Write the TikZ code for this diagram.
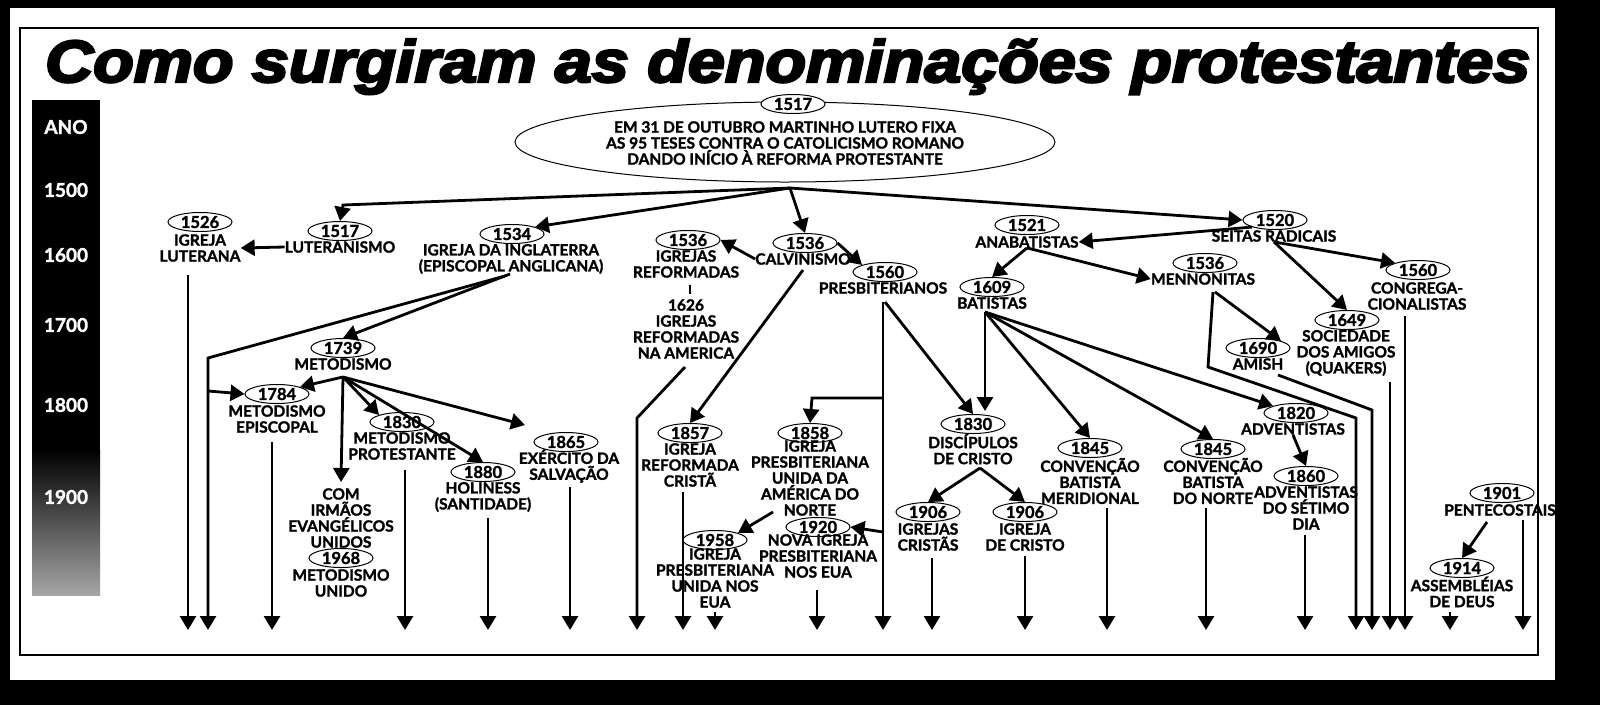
\documentclass[tikz,border=0pt]{standalone}
\usepackage{fontspec}
\setmainfont{Lato}
\newfontfamily\lblfont[FakeBold=1.6]{Lato Bold}
\newfontfamily\titlefont[FakeBold=4]{Liberation Sans Bold Italic}
\usetikzlibrary{arrows.meta,shapes.geometric}
\begin{document}
\begin{tikzpicture}[x=1pt,y=-1pt,
  lbl/.style={font=\lblfont\fontsize{15.5}{16}\selectfont,align=center,inner sep=0pt},
  yrbox/.style={draw,line width=1pt,ellipse,inner sep=0pt,minimum width=64pt,minimum height=19pt,font=\lblfont\fontsize{16.5}{16}\selectfont},
  arr/.style={line width=2.8pt,-{Triangle[length=14pt,width=16pt]}},
  ln/.style={line width=1.5pt},
  barlbl/.style={text=white,font=\lblfont\fontsize{19}{19}\selectfont,inner sep=0pt}]
\useasboundingbox (0,0) rectangle (1600,705);
\fill[black] (0,0) rectangle (1600,705);
\fill[white] (10,8) rectangle (1555,680);
\draw[line width=2.5pt] (20,28) rectangle (1538,655);
% title
\node[inner sep=0pt,anchor=base west] (title) at (45,82) {\resizebox{1485pt}{43pt}{\titlefont Como surgiram as denominações protestantes}};
% year bar
\fill[black] (32,100) rectangle (100,450);
\shade[top color=black,bottom color=black!35] (32,450) rectangle (100,595);
\node[barlbl] (ano) at (66,127) {ANO};
\node[barlbl] (y1500) at (66,190) {1500};
\node[barlbl] (y1600) at (66,255) {1600};
\node[barlbl] (y1700) at (66,325) {1700};
\node[barlbl] (y1800) at (66,405) {1800};
\node[barlbl] (y1900) at (66,497) {1900};
% top
\node[draw,line width=1pt,ellipse,minimum width=540pt,minimum height=80pt] (top) at (785,142) {};
\node[lbl] (toptext) at (785,143) {EM 31 DE OUTUBRO MARTINHO LUTERO FIXA\\AS 95 TESES CONTRA O CATOLICISMO ROMANO\\DANDO INÍCIO À REFORMA PROTESTANTE};
\node[yrbox,fill=white] (y1517top) at (793,104) {1517};
% nodes
\node[yrbox] (y1526) at (200,222) {1526};
\node[lbl] (luterana) at (200,248) {IGREJA\\LUTERANA};
\node[yrbox] (y1517) at (340,231) {1517};
\node[lbl] (luteranismo) at (340,247) {LUTERANISMO};
\node[yrbox] (y1534) at (512,234) {1534};
\node[lbl] (anglicana) at (511,259) {IGREJA DA INGLATERRA\\(EPISCOPAL ANGLICANA)};
\node[yrbox] (y1536r) at (688,240) {1536};
\node[lbl] (reformadas) at (686,264) {IGREJAS\\REFORMADAS};
\node[yrbox] (y1536c) at (805,243) {1536};
\node[lbl] (calvinismo) at (803,259) {CALVINISMO};
\node[yrbox] (y1560p) at (885,272) {1560};
\node[lbl] (presb) at (883,288) {PRESBITERIANOS};
\node[lbl] (america) at (686,329) {1626\\IGREJAS\\REFORMADAS\\NA AMERICA};
\node[yrbox] (y1521) at (1027,225) {1521};
\node[lbl] (anabat) at (1027,242) {ANABATISTAS};
\node[yrbox] (y1520) at (1275,220) {1520};
\node[lbl] (seitas) at (1274,236) {SEITAS RADICAIS};
\node[yrbox] (y1609) at (992,287) {1609};
\node[lbl] (batistas) at (992,303) {BATISTAS};
\node[yrbox] (y1536m) at (1205,263) {1536};
\node[lbl] (menno) at (1203,279) {MENNONITAS};
\node[yrbox] (y1560c) at (1418,270) {1560};
\node[lbl] (congreg) at (1417,296) {CONGREGA-\\CIONALISTAS};
\node[yrbox] (y1649) at (1347,320) {1649};
\node[lbl] (quakers) at (1346,353) {SOCIEDADE\\DOS AMIGOS\\(QUAKERS)};
\node[yrbox] (y1690) at (1258,348) {1690};
\node[lbl] (amish) at (1258,364) {AMISH};
\node[yrbox] (y1739) at (343,348) {1739};
\node[lbl] (metodismo) at (343,364) {METODISMO};
\node[yrbox] (y1784) at (277,394) {1784};
\node[lbl] (metepis) at (277,419) {METODISMO\\EPISCOPAL};
\node[yrbox] (y1830m) at (402,422) {1830};
\node[lbl] (metprot) at (402,446) {METODISMO\\PROTESTANTE};
\node[yrbox] (y1880) at (483,472) {1880};
\node[lbl] (holiness) at (483,497) {HOLINESS\\(SANTIDADE)};
\node[yrbox] (y1865) at (566,442) {1865};
\node[lbl] (exercito) at (569,466) {EXÉRCITO DA\\SALVAÇÃO};
\node[lbl] (com) at (341,518) {COM\\IRMÃOS\\EVANGÉLICOS\\UNIDOS};
\node[yrbox] (y1968) at (341,558) {1968};
\node[lbl] (metunido) at (341,583) {METODISMO\\UNIDO};
\node[yrbox] (y1857) at (690,433) {1857};
\node[lbl] (refcrista) at (690,465) {IGREJA\\REFORMADA\\CRISTÃ};
\node[yrbox] (y1858) at (810,433) {1858};
\node[lbl] (pun) at (810,478) {IGREJA\\PRESBITERIANA\\UNIDA DA\\AMÉRICA DO\\NORTE};
\node[yrbox] (y1958) at (715,540) {1958};
\node[lbl] (puneua) at (715,578) {IGREJA\\PRESBITERIANA\\UNIDA NOS\\EUA};
\node[yrbox] (y1920) at (818,527) {1920};
\node[lbl] (nova) at (818,556) {NOVA IGREJA\\PRESBITERIANA\\NOS EUA};
\node[yrbox] (y1830d) at (973,424) {1830};
\node[lbl] (discipulos) at (973,449) {DISCÍPULOS\\DE CRISTO};
\node[yrbox] (y1906a) at (928,512) {1906};
\node[lbl] (cristas) at (928,537) {IGREJAS\\CRISTÃS};
\node[yrbox] (y1906b) at (1025,512) {1906};
\node[lbl] (decristo) at (1025,537) {IGREJA\\DE CRISTO};
\node[yrbox] (y1845m) at (1090,448) {1845};
\node[lbl] (merid) at (1090,481) {CONVENÇÃO\\BATISTA\\MERIDIONAL};
\node[yrbox] (y1845n) at (1213,449) {1845};
\node[lbl] (norte) at (1213,481) {CONVENÇÃO\\BATISTA\\DO NORTE};
\node[yrbox] (y1820) at (1296,413) {1820};
\node[lbl] (advent) at (1293,429) {ADVENTISTAS};
\node[yrbox] (y1860) at (1306,476) {1860};
\node[lbl] (setimo) at (1306,508) {ADVENTISTAS\\DO SÉTIMO\\DIA};
\node[yrbox] (y1901) at (1502,493) {1901};
\node[lbl] (pente) at (1500,510) {PENTECOSTAIS};
\node[yrbox] (y1914) at (1462,568) {1914};
\node[lbl] (assemb) at (1462,592) {ASSEMBLÉIAS\\DE DEUS};
% connectors from top
\coordinate (hub) at (790,188);
\draw[arr] (hub) -- (343,205) -- (y1517.north);
\draw[arr] (hub) -- (y1534.north east);
\draw[arr] (hub) -- (y1536c.north);
\draw[arr] (hub) -- (y1520.west);
\draw[arr] (y1520.south west) -- (anabat.east);
\draw[arr] (luteranismo.west) -- (luterana.east);
\draw[arr] (calvinismo.west) -- (y1536r.east);
\draw[arr] (y1536c.east) -- (y1560p.north west);
% anglican
\draw[arr] (510,274) -- (y1739.north);
\draw[arr] (505,276) -- (208,358) -- (208,630);
\draw[arr] (208,391) -- (y1784.west);
% metodismo
\coordinate (mhub) at (343,377);
\draw[arr] (mhub) -- (y1784.north east);
\draw[arr] (mhub) -- (341,482);
\draw[arr] (mhub) -- (y1830m.north west);
\draw[arr] (mhub) -- (y1880.north);
\draw[arr] (mhub) -- (525,425);
% calvinism
\draw[arr] (803,270) -- (y1857.north);
\draw[ln] (690,285) -- (690,294);
\draw[arr] (685,367) -- (637,418) -- (637,630);
% presbyterians
\draw[arr] (883,302) -- (883,630);
\draw[arr] (883,398) -- (812,398) -- (y1858.north);
\draw[arr] (883,532) -- (y1920.east);
\draw[arr] (885,302) -- (y1830d.north);
\draw[arr] (773,512) -- (y1958.north east);
% batistas
\coordinate (bhub) at (985,312);
\draw[arr] (bhub) -- (985,411);
\draw[arr] (bhub) -- (y1845m.north);
\draw[arr] (bhub) -- (y1845n.north);
\draw[arr] (bhub) -- (y1820.north west);
\draw[arr] (anabat.south) -- (y1609.north);
\draw[arr] (anabat.south) -- (menno.west);
\draw[arr] (980,468) -- (y1906a.north);
\draw[arr] (980,468) -- (y1906b.north);
% mennonites, seitas
\draw[arr] (1213,292) -- (1208,367) -- (1356,418) -- (1356,630);
\draw[arr] (1215,292) -- (y1690.north east);
\draw[arr] (1278,375) -- (1372,410) -- (1372,630);
\draw[arr] (1390,382) -- (1390,630);
\draw[arr] (1405,316) -- (1405,630);
\draw[arr] (seitas.south) -- (y1560c.north west);
\draw[arr] (seitas.south) -- (y1649.north);
\draw[arr] (advent.south) -- (y1860.north);
\draw[arr] (1487,522) -- (y1914.north);
% bottom arrows
\draw[arr] (188,275) -- (188,630);
\draw[arr] (272,442) -- (272,630);
\draw[arr] (405,470) -- (405,630);
\draw[arr] (488,518) -- (488,630);
\draw[arr] (570,487) -- (570,630);
\draw[arr] (683,492) -- (683,630);
\draw[arr] (715,612) -- (715,630);
\draw[arr] (817,590) -- (817,630);
\draw[arr] (932,558) -- (932,630);
\draw[arr] (1025,556) -- (1025,630);
\draw[arr] (1107,508) -- (1107,630);
\draw[arr] (1206,508) -- (1206,630);
\draw[arr] (1305,535) -- (1305,630);
\draw[arr] (1450,612) -- (1450,630);
\draw[arr] (1523,520) -- (1523,630);
\end{tikzpicture}
\end{document}
